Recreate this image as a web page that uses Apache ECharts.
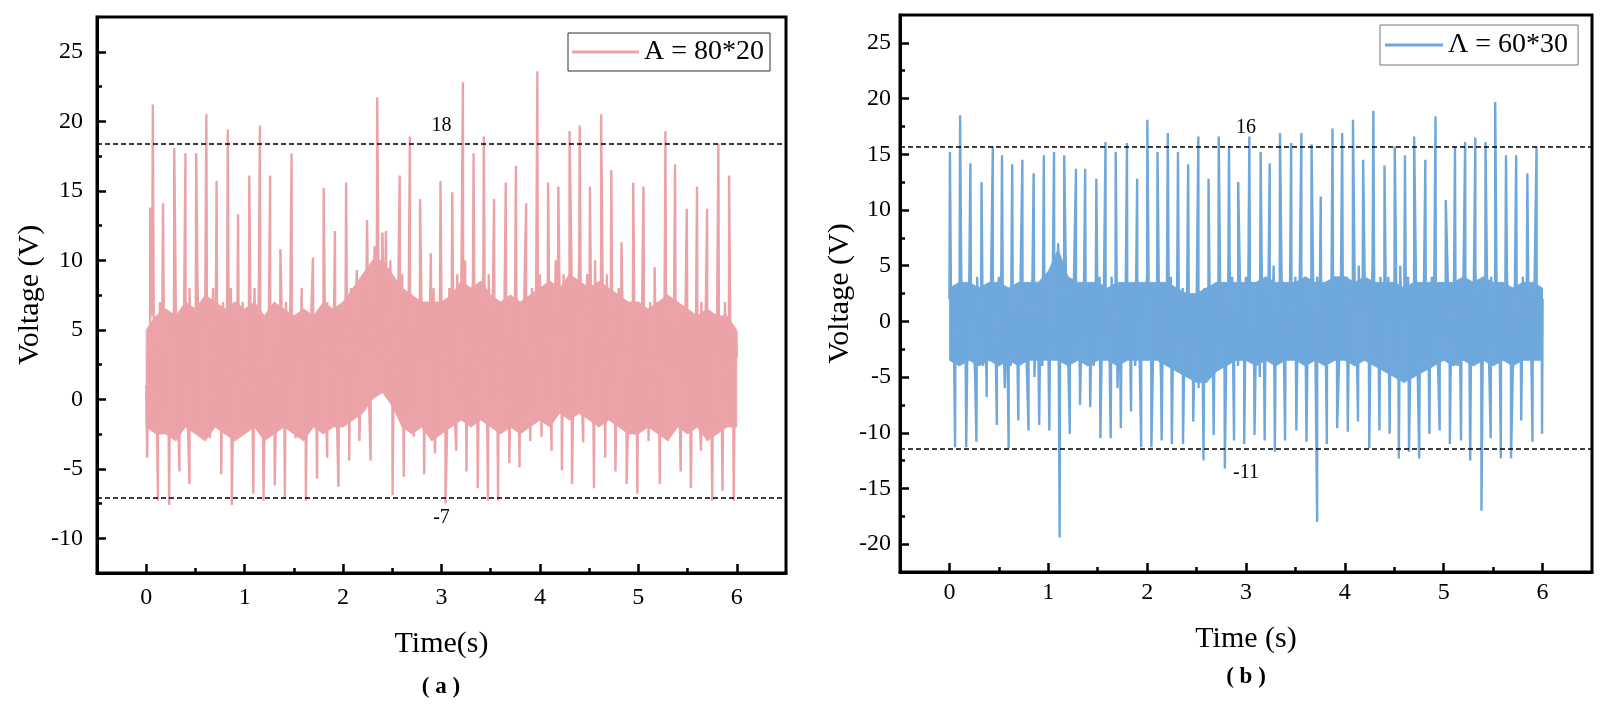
<!DOCTYPE html>
<html><head><meta charset="utf-8">
<script src="https://cdn.jsdelivr.net/npm/echarts@6/dist/echarts.min.js"></script>
<style>html,body{margin:0;padding:0;background:#fff}#c{width:1600px;height:710px}</style>
</head><body><div id="c"></div>
<script>
// ---------- Panel (a) A = 80*20 ----------
const seriesNameA = 'A = 80*20';
const spikeTimesA = [0.041,0.067,0.171,0.285,0.399,0.508,0.611,0.715,0.829,0.933,1.047,1.155,1.259,1.363,1.477,1.580,1.694,1.803,1.917,2.031,2.140,2.244,2.347,2.435,2.575,2.679,2.782,2.891,2.990,3.109,3.218,3.326,3.430,3.534,3.653,3.756,3.860,3.974,4.083,4.187,4.301,4.404,4.508,4.622,4.725,4.829,4.948,5.052,5.166,5.275,5.373,5.492,5.596,5.699,5.813,5.922,5.995];
const spikeVoltsA = [13.8,21.2,14.1,18.1,17.7,17.7,20.5,15.7,19.4,13.3,16.1,19.7,16.1,10.8,17.7,8.0,10.2,15.2,12.1,15.6,9.3,12.9,21.7,12.1,16.1,18.9,14.4,10.5,15.7,14.9,22.8,17.7,18.9,14.4,15.6,16.8,14.1,23.6,15.6,15.3,19.3,19.7,15.3,20.5,16.5,11.3,15.6,15.3,9.5,19.3,16.9,13.7,15.3,13.7,18.4,16.1,4.9];
const dipTimesA = [0.010,0.119,0.233,0.337,0.440,0.544,0.648,0.762,0.870,0.984,1.088,1.192,1.306,1.409,1.518,1.622,1.736,1.839,1.953,2.062,2.166,2.280,2.383,2.503,2.617,2.720,2.824,2.933,3.041,3.150,3.254,3.368,3.472,3.575,3.689,3.793,3.902,4.016,4.119,4.223,4.326,4.440,4.549,4.663,4.767,4.881,4.990,5.104,5.218,5.326,5.430,5.534,5.637,5.751,5.855,5.969];
const dipVoltsA = [-4.2,-7.3,-7.6,-5.2,-6.1,-2.5,-2.8,-5.4,-7.6,-2.5,-6.8,-7.3,-6.2,-7.2,-2.8,-7.3,-5.7,-4.2,-6.3,-4.4,-3.0,-4.4,0.4,-6.9,-5.6,-2.7,-5.4,-3.9,-7.5,-3.7,-5.2,-6.4,-7.3,-7.3,-4.6,-4.9,-3.0,-2.7,-3.7,-5.1,-6.1,-3.1,-6.4,-4.2,-5.2,-6.1,-6.8,-3.0,-6.1,-2.5,-5.2,-6.4,-3.7,-7.3,-6.6,-7.3];
// oscillating body of the trace, sampled every 0.02 s from 0 to 6 s
const bodyStepA = 0.02;
const bodyVoltsA = [
 1,5,-2,6,0,4,-1,7,2,5,
 -1,6,1,4,-2,7,0,5,-1,3,
 6,-1,8,1,5,-2,9,0,4,2,
 7,-1,5,1,8,-2,4,6,0,7,
 -1,5,2,8,-2,6,0,4,-1,7,
 1,5,-2,6,0,8,-1,4,2,6,
 -2,5,1,7,-1,4,0,6,-2,5,
 2,7,-1,4,0,6,-2,5,1,3,
 6,-1,5,0,7,-2,4,1,6,-1,
 5,2,7,-1,4,0,6,-2,5,1,
 7,-1,4,2,8,0,5,-1,6,1,
 8,2,10,1,7,3,11,2,9,4,
 12,3,9,1,10,2,8,0,7,3,
 9,-1,6,1,8,0,5,-2,7,2,
 5,-1,7,0,4,2,8,-2,5,1,
 6,0,4,-1,8,1,5,-2,9,2,
 7,0,10,1,6,3,9,-1,7,2,
 8,0,5,2,9,-1,6,1,7,0,
 5,-2,7,1,4,0,6,-1,8,2,
 4,0,7,-1,5,2,8,0,6,1,
 9,1,6,0,8,2,5,-1,10,1,
 7,2,9,0,6,3,10,1,8,2,
 11,1,7,3,9,0,6,2,10,1,
 8,2,6,-1,9,1,7,0,5,2,
 8,-1,6,1,4,0,7,-2,5,2,
 6,-1,8,1,5,0,7,-2,4,1,
 7,0,5,-1,8,2,6,-2,4,1,
 6,-1,5,0,7,1,4,-2,6,0,
 5,-1,7,1,4,-2,6,0,5,-1,
 6,1,4,-2,7,0,5,-1,4,2,
 3];
// solid core band of the dense trace (lower / upper edge every 0.1 s)
const coreStepA = 0.1;
const coreLowA = [
 -2,-2.5,-2.5,-3,-2,-2.5,-3,-2,-2.5,-3,
 -2.5,-2,-3,-2.5,-2,-2.5,-3,-2,-2.5,-2,
 -2,-1.5,-1,0,0.5,-0.5,-2,-2.5,-2,-3,
 -2.5,-2,-1.5,-2,-1.5,-2,-2.5,-2,-2.5,-2,
 -1.5,-2,-1,-1.5,-1,-1.5,-2,-1.5,-2,-2.5,
 -2.5,-2,-2.5,-3,-2,-2.5,-2,-3,-2.5,-2,
 -2];
const coreHighA = [
 5,6,6.5,6,7,6.5,7.5,7,6.5,7,
 6.5,7,6,7,6.5,6,6.5,6,7,6.5,
 7,8,9,10,10,9,8,7.5,7,7,
 7,7.5,8.5,8,8.5,7.5,7,7.5,7,7.5,
 8,8.5,8,9,8.5,8,8.5,8,7.5,7,
 7,6.5,7,7.5,7,6.5,6,6.5,6,6,
 5];
const thresholdsA = [18.4, -7.1];
const thresholdLabelsA = ['18', '-7'];
const yTicksA = [-10,-5,0,5,10,15,20,25];
const yMinorTicksA = [-7.5,-2.5,2.5,7.5,12.5,17.5,22.5];

// ---------- Panel (b) Λ = 60*30 ----------
const seriesNameB = 'Λ = 60*30';
const spikeTimesB = [0.005,0.108,0.212,0.325,0.439,0.532,0.635,0.738,0.852,0.955,1.058,1.161,1.280,1.373,1.486,1.579,1.682,1.796,1.899,2.002,2.105,2.209,2.312,2.415,2.518,2.621,2.724,2.828,2.921,3.034,3.148,3.240,3.344,3.457,3.560,3.663,3.756,3.875,3.973,4.082,4.185,4.288,4.401,4.505,4.608,4.701,4.814,4.917,5.021,5.114,5.217,5.320,5.423,5.521,5.630,5.733,5.846,5.939,5.991];
const spikeVoltsB = [15.2,18.5,14.2,12.5,15.7,14.9,14.1,14.5,13.3,14.9,15.2,14.9,13.7,13.7,12.8,16.1,15.2,16.0,12.8,18.1,15.2,16.9,15.2,14.1,16.6,12.8,16.6,15.7,12.5,16.6,15.2,14.2,16.9,16.0,16.9,15.9,11.2,17.3,16.9,18.1,14.5,18.9,14.0,15.7,14.9,16.6,14.5,18.4,10.9,15.7,16.1,16.5,16.1,19.7,14.9,14.9,13.3,15.7,2.8];
const dipTimesB = [0.026,0.057,0.170,0.273,0.377,0.480,0.599,0.697,0.800,0.908,1.011,1.115,1.218,1.321,1.424,1.527,1.631,1.734,1.837,1.940,2.043,2.147,2.250,2.363,2.466,2.570,2.673,2.786,2.879,2.982,3.086,3.189,3.292,3.395,3.509,3.612,3.720,3.818,3.922,4.030,4.133,4.247,4.350,4.453,4.546,4.649,4.752,4.856,4.959,5.062,5.175,5.268,5.382,5.475,5.578,5.681,5.784,5.898,5.995];
const dipVoltsB = [-3.6,-11.3,-11.3,-10.8,-6.8,-9.3,-11.4,-8.9,-9.8,-9.3,-9.8,-19.4,-10.1,-7.5,-7.7,-10.5,-10.5,-9.6,-8.1,-11.3,-11.3,-10.7,-11.0,-11.0,-9.0,-12.5,-10.2,-13.2,-10.7,-11.0,-10.2,-10.7,-11.7,-10.7,-9.8,-10.8,-18.0,-11.0,-9.6,-9.9,-9.0,-11.4,-9.8,-10.1,-12.3,-11.7,-12.3,-10.1,-9.8,-11.0,-10.7,-12.5,-17.0,-10.5,-12.3,-12.3,-8.9,-10.8,-10.1];
const bodyStepB = 0.02;
const bodyVoltsB = [
 2,-3,3,-2,1,-4,4,-1,2,-3,
 3,-2,1,-5,4,-1,2,-4,3,0,
 -2,3,-3,2,-1,4,-2,1,-6,3,
 0,-4,3,-1,2,-3,4,-2,1,-3,
 3,-1,4,-5,2,-3,1,-4,3,0,
 -2,4,-1,6,0,7,2,5,-1,3,
 -3,2,-1,4,-2,3,-5,1,2,-3,
 3,-2,1,-4,2,-1,4,-3,1,-2,
 2,-3,4,-1,1,-6,3,-2,2,-1,
 -3,3,-2,2,-4,4,-1,1,-3,2,
 4,-2,2,-3,3,-1,1,-5,2,-2,
 3,-1,4,-3,2,-2,1,-4,3,0,
 -2,3,-5,2,-3,1,-6,0,-2,3,
 -4,2,-5,1,-3,3,-4,2,-1,3,
 -3,2,-2,4,-1,1,-4,3,-2,2,
 4,-1,2,-3,3,-2,1,-5,4,-1,
 2,-3,3,-2,5,-1,2,-3,4,0,
 -2,3,-3,2,-1,4,-2,1,-3,3,
 1,-4,2,-2,3,-1,4,-3,2,-2,
 3,-1,1,-3,4,-2,2,-4,3,0,
 -2,4,-1,2,-3,3,-2,5,-1,2,
 4,-2,3,-1,5,-3,2,-2,4,-1,
 3,-3,4,-2,2,-4,3,-1,5,-2,
 1,-3,4,-5,2,-2,3,-6,1,-3,
 3,-2,2,-4,4,-1,1,-3,3,-2,
 2,-3,4,-1,3,-2,1,-4,2,-1,
 4,-2,2,-3,3,-1,5,-2,1,-3,
 3,-1,2,-4,4,-2,1,-3,3,-1,
 2,-3,4,-2,1,-4,3,-1,2,-3,
 4,-1,3,-2,1,-3,4,-2,2,-1,
 2];
const coreStepB = 0.1;
const coreLowB = [
 -3.5,-4,-3.5,-4,-3.5,-4,-3.5,-4,-3.5,-3.5,
 -3.5,-3.5,-4,-3.5,-4,-3.5,-3.5,-4,-3.5,-3.5,
 -3.5,-3.5,-4,-4.5,-5,-5.5,-5.5,-4.5,-4,-3.5,
 -3.5,-4,-3.5,-4,-3.5,-3.5,-4,-3.5,-4,-3.5,
 -3.5,-4,-3.5,-4,-4.5,-5,-5.5,-5,-4.5,-4,
 -3.5,-4,-3.5,-4,-3.5,-4,-3.5,-4,-3.5,-3.5,
 -3.5];
const coreHighB = [
 3,3.5,3.5,3,3.5,3.5,3,3.5,3.5,3.5,
 4.5,6.5,4,3.5,3.5,3.5,3,3.5,3.5,3.5,
 3.5,3.5,3.5,3,2.5,2.5,3,3.5,3.5,3.5,
 3.5,3.5,4,3.5,3.5,3.5,4,3.5,3.5,4,
 4,3.5,4,3.5,3.5,3.5,3,3.5,3.5,3.5,
 3.5,3.5,4,3.5,4,3.5,3.5,3,3.5,3.5,
 3];
const thresholdsB = [15.7, -11.4];
const thresholdLabelsB = ['16', '-11'];
const yTicksB = [-20,-15,-10,-5,0,5,10,15,20,25];
const yMinorTicksB = [-17.5,-12.5,-7.5,-2.5,2.5,7.5,12.5,17.5,22.5];

// shared x axis ticks
const xTicks = [0,1,2,3,4,5,6];
const xMinorTicks = [0.5,1.5,2.5,3.5,4.5,5.5];

const FONT = '"Liberation Serif", "Times New Roman", serif';
const COLOR_A = '#EBA3A8';
const COLOR_B = '#6FA8DC';

function buildTrace(spT, spV, dT, dV, bodyV, step) {
  const pts = [];
  for (let i = 0; i < spT.length; i++) pts.push([spT[i], spV[i]]);
  for (let i = 0; i < dT.length; i++) pts.push([dT[i], dV[i]]);
  for (let i = 0; i < bodyV.length; i++) pts.push([+(i * step).toFixed(4), bodyV[i]]);
  pts.sort((a, b) => a[0] - b[0]);
  return pts;
}
// band between the lower and upper edge of the dense core, drawn through the axes' scales
function coreSeries(low, high, step, xi, yi, color) {
  const rows = low.map((v, i) => [+(i * step).toFixed(4), v, high[i]]);
  return {
    type: 'custom', xAxisIndex: xi, yAxisIndex: yi, z: 1, silent: true, clip: true,
    data: rows,
    encode: { x: 0, y: [1, 2] },
    renderItem: function (params, api) {
      const i = params.dataIndex;
      if (i >= rows.length - 1) return null;
      const a = rows[i], b = rows[i + 1];
      const pts = [api.coord([a[0], a[1]]), api.coord([b[0], b[1]]), api.coord([b[0], b[2]]), api.coord([a[0], a[2]])];
      return { type: 'polygon', shape: { points: pts }, style: { fill: color, stroke: color, lineWidth: 0.8 } };
    }
  };
}

function mainX(gi, name, nameGap, labelMargin) {
  return {
    type: 'value', gridIndex: gi, min: -0.5, max: 6.5, position: 'bottom',
    axisLine: { show: true, onZero: false, lineStyle: { color: '#000', width: 3 } },
    axisTick: { show: true, inside: true, length: 9, customValues: xTicks, lineStyle: { color: '#000', width: 2.5 } },
    axisLabel: { customValues: xTicks, margin: labelMargin, fontSize: 24, fontFamily: FONT, color: '#000' },
    splitLine: { show: false },
    name: name, nameLocation: 'middle', nameGap: nameGap,
    nameTextStyle: { fontSize: 30, fontFamily: FONT, color: '#000' }
  };
}
function minorX(gi) {
  return {
    type: 'value', gridIndex: gi, min: -0.5, max: 6.5, position: 'bottom',
    axisLine: { show: false, onZero: false },
    axisTick: { show: true, inside: true, length: 5, customValues: xMinorTicks, lineStyle: { color: '#000', width: 2.5 } },
    axisLabel: { show: false }, splitLine: { show: false }
  };
}
function mainY(gi, min, max, ticks, nameGap, labelMargin) {
  return {
    type: 'value', gridIndex: gi, min: min, max: max, position: 'left',
    axisLine: { show: true, onZero: false, lineStyle: { color: '#000', width: 3 } },
    axisTick: { show: true, inside: true, length: 9, customValues: ticks, lineStyle: { color: '#000', width: 2.5 } },
    axisLabel: { customValues: ticks, margin: labelMargin, fontSize: 24, fontFamily: FONT, color: '#000' },
    splitLine: { show: false },
    name: 'Voltage (V)', nameLocation: 'middle', nameGap: nameGap, nameRotate: 90,
    nameTextStyle: { fontSize: 30, fontFamily: FONT, color: '#000' }
  };
}
function minorY(gi, min, max, ticks) {
  return {
    type: 'value', gridIndex: gi, min: min, max: max, position: 'left',
    axisLine: { show: false, onZero: false },
    axisTick: { show: true, inside: true, length: 5, customValues: ticks, lineStyle: { color: '#000', width: 2.5 } },
    axisLabel: { show: false }, splitLine: { show: false }
  };
}
function markLines(values, labels, dists) {
  return {
    silent: true, symbol: ['none', 'none'],
    lineStyle: { color: '#000', type: [5, 3], width: 1.6 },
    data: values.map((v, i) => ({
      yAxis: v,
      label: {
        show: true, formatter: labels[i],
        position: i === 0 ? 'insideMiddleTop' : 'insideMiddleBottom',
        distance: dists[i], fontSize: 20, fontFamily: FONT, color: '#000'
      }
    }))
  };
}

const chart = echarts.init(document.getElementById('c'), null, { renderer: 'canvas' });
chart.setOption({
  animation: false,
  backgroundColor: '#fff',
  textStyle: { fontFamily: FONT },
  grid: [
    { left: 97, top: 17, width: 689, height: 556, show: true, borderColor: '#000', borderWidth: 3, backgroundColor: 'transparent' },
    { left: 900, top: 15, width: 692, height: 557, show: true, borderColor: '#000', borderWidth: 3, backgroundColor: 'transparent' }
  ],
  xAxis: [
    mainX(0, 'Time(s)', 56, 13), minorX(0),
    mainX(1, 'Time (s)', 52, 9), minorX(1)
  ],
  yAxis: [
    mainY(0, -12.5, 27.5, yTicksA, 52, 14), minorY(0, -12.5, 27.5, yMinorTicksA),
    mainY(1, -22.5, 27.5, yTicksB, 45, 9), minorY(1, -22.5, 27.5, yMinorTicksB)
  ],
  legend: [
    {
      data: [seriesNameA], left: 568, top: 33, orient: 'horizontal',
      icon: 'rect', itemWidth: 67, itemHeight: 3,
      borderColor: '#333', borderWidth: 1, padding: [5, 6, 5, 4],
      textStyle: { fontSize: 28, fontFamily: FONT, color: '#000' }
    },
    {
      data: [seriesNameB], left: 1380, top: 25, orient: 'horizontal',
      icon: 'rect', itemWidth: 58, itemHeight: 3,
      borderColor: '#777', borderWidth: 1, padding: [6, 10, 6, 5],
      textStyle: { fontSize: 28, fontFamily: FONT, color: '#000' }
    }
  ],
  graphic: [
    { type: 'text', style: { x: 441, y: 687, text: '( a )', textAlign: 'center', textVerticalAlign: 'middle', font: 'bold 23px "Liberation Serif"', fill: '#000' } },
    { type: 'text', style: { x: 1246, y: 677, text: '( b )', textAlign: 'center', textVerticalAlign: 'middle', font: 'bold 23px "Liberation Serif"', fill: '#000' } }
  ],
  series: [
    coreSeries(coreLowA, coreHighA, coreStepA, 0, 0, COLOR_A),
    coreSeries(coreLowB, coreHighB, coreStepB, 2, 2, COLOR_B),
    {
      name: seriesNameA, type: 'line', xAxisIndex: 0, yAxisIndex: 0, z: 2,
      data: buildTrace(spikeTimesA, spikeVoltsA, dipTimesA, dipVoltsA, bodyVoltsA, bodyStepA),
      showSymbol: false, symbol: 'none', clip: true,
      lineStyle: { color: COLOR_A, width: 2.4 }, itemStyle: { color: COLOR_A },
      markLine: markLines(thresholdsA, thresholdLabelsA, [8, 10])
    },
    {
      name: seriesNameB, type: 'line', xAxisIndex: 2, yAxisIndex: 2, z: 2,
      data: buildTrace(spikeTimesB, spikeVoltsB, dipTimesB, dipVoltsB, bodyVoltsB, bodyStepB),
      showSymbol: false, symbol: 'none', clip: true,
      lineStyle: { color: COLOR_B, width: 2.4 }, itemStyle: { color: COLOR_B },
      markLine: markLines(thresholdsB, thresholdLabelsB, [9, 14])
    }
  ]
});
</script>
</body></html>
